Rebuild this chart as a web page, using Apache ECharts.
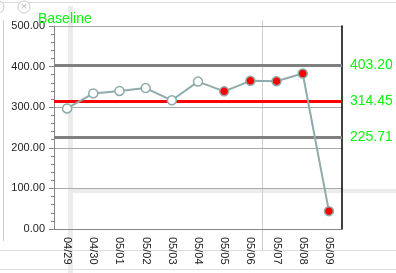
<!DOCTYPE html>
<html><head><meta charset="utf-8">
<script src="https://cdn.jsdelivr.net/npm/echarts@6/dist/echarts.min.js"></script>
<style>html,body{margin:0;padding:0;background:#fff;}#c{width:396px;height:273px;}</style>
</head><body><div id="c"></div>
<script>
const categories = ['04/29','04/30','05/01','05/02','05/03','05/04','05/05','05/06','05/07','05/08','05/09'];
const values = [297, 334, 340, 347, 317, 363, 339, 365, 364, 383, 44];
const flagged = [false, false, false, false, false, false, true, true, true, true, true];
const yTicks = { min: 0, max: 500, interval: 100 };
const ucl = 403.20, cl = 314.45, lcl = 225.71;
const titleText = 'Baseline';

const teal = '#8fabab';
const green = '#0cf50c';
const chart = echarts.init(document.getElementById('c'));
const data = values.map((v, i) => ({
  value: v,
  itemStyle: { color: flagged[i] ? '#ff0000' : '#ffffff', borderColor: teal, borderWidth: 1.5 }
}));
chart.setOption({
  animation: false,
  title: { text: titleText, left: 33, top: 7, textStyle: { color: green, fontSize: 14, fontWeight: 'normal', fontFamily: 'Liberation Sans' } },
  grid: { left: 54, right: 54, top: 26, bottom: 44 },
  graphic: [
    { type: 'rect', shape: { x: 68, y: 6, width: 5, height: 267 }, style: { fill: '#ececec' }, z: 0 },
    { type: 'rect', shape: { x: 68, y: 189, width: 328, height: 4 }, style: { fill: '#ececec' }, z: 0 },
    { type: 'line', shape: { x1: 262.5, y1: 21, x2: 262.5, y2: 251 }, style: { stroke: '#cccccc', lineWidth: 1 }, z: 0 },
    { type: 'line', shape: { x1: 0, y1: 2.5, x2: 396, y2: 2.5 }, style: { stroke: '#dddddd', lineWidth: 1 }, z: 0 },
    { type: 'line', shape: { x1: 3.5, y1: 20, x2: 3.5, y2: 241 }, style: { stroke: '#cccccc', lineWidth: 1 }, z: 0 },
    { type: 'line', shape: { x1: 0, y1: 250.5, x2: 396, y2: 250.5 }, style: { stroke: '#dddddd', lineWidth: 1 }, z: 0 },
    { type: 'line', shape: { x1: 0, y1: 269.5, x2: 396, y2: 269.5 }, style: { stroke: '#dddddd', lineWidth: 1 }, z: 0 },
    { type: 'circle', shape: { cx: 24, cy: 7, r: 6 }, style: { fill: '#fff', stroke: '#c8c8c8', lineWidth: 1 }, z: 0 },
    { type: 'text', style: { x: 24, y: 7, text: '×', fill: '#bbbbbb', fontSize: 11, align: 'center', verticalAlign: 'middle' }, z: 1 },
    { type: 'circle', shape: { cx: -2, cy: 7, r: 6 }, style: { fill: '#fff', stroke: '#c8c8c8', lineWidth: 1 }, z: 0 }
  ],
  xAxis: {
    type: 'category', data: categories, boundaryGap: true,
    axisLine: { lineStyle: { color: '#888', width: 1 } },
    axisTick: { alignWithLabel: true, length: 5, lineStyle: { color: '#888' } },
    axisLabel: { rotate: -90, color: '#222', fontSize: 11, fontFamily: 'Liberation Sans', margin: 8 },
    splitLine: { show: false }
  },
  yAxis: [{
    type: 'value', min: yTicks.min, max: yTicks.max, interval: yTicks.interval,
    axisLine: { show: true, lineStyle: { color: '#888' } },
    axisTick: { show: true, length: 5, lineStyle: { color: '#888' } },
    minorTick: { show: true, splitNumber: 5, length: 3, lineStyle: { color: '#888' } },
    axisLabel: { color: '#222', fontSize: 11, fontFamily: 'Liberation Sans', margin: 9, formatter: v => v.toFixed(2) },
    splitLine: { show: true, lineStyle: { color: '#aaaaaa', width: 1 } }
  }, {
    type: 'value', position: 'right', min: yTicks.min, max: yTicks.max, interval: yTicks.interval,
    axisLine: { show: true, lineStyle: { color: '#000', width: 1.5 } },
    axisTick: { show: false }, axisLabel: { show: false }, splitLine: { show: false }
  }],
  series: [{
    type: 'line', data: data, symbol: 'circle', symbolSize: 9,
    lineStyle: { color: teal, width: 2 },
    z: 5,
    markLine: {
      silent: true, symbol: 'none', animation: false,
      label: { show: true, position: 'end', distance: 8, color: green, fontSize: 14, fontFamily: 'Liberation Sans', formatter: p => p.value.toFixed(2) },
      data: [
        { yAxis: ucl, lineStyle: { color: '#808080', width: 3, type: 'solid' } },
        { yAxis: cl, lineStyle: { color: '#ff0000', width: 3, type: 'solid' } },
        { yAxis: lcl, lineStyle: { color: '#808080', width: 3, type: 'solid' } }
      ]
    }
  }]
});
</script></body></html>
